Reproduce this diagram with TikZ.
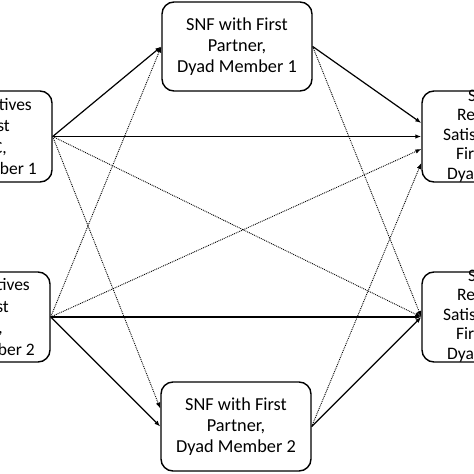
\documentclass[tikz,border=0pt]{standalone}
\usepackage{fontspec}
\setmainfont{Carlito}
\usetikzlibrary{arrows.meta,calc}
\begin{document}
\begin{tikzpicture}[x=1pt,y=-1pt,
  box/.style={draw, line width=1.4pt, rounded corners=12pt, fill=white, inner sep=0pt},
  mtxt/.style={font=\fontsize{18.3}{21}\selectfont, align=center},
  ltxt/.style={font=\fontsize{17.5}{21.5}\selectfont, inner sep=0pt, align=right},
  rtxt/.style={font=\fontsize{17.5}{19.5}\selectfont, inner sep=0pt, align=left},
  arr/.style={-{Latex[length=6pt,width=4.5pt]}, line width=1.2pt},
  dot/.style={-{Latex[length=6pt,width=4.5pt]}, line width=0.9pt, densely dotted}]
\useasboundingbox (0,0) rectangle (474,474);
\clip (0,0) rectangle (474,474);
% boxes
\node[box, mtxt, minimum width=150pt, minimum height=89pt] (t) at (237,46.5) {SNF with First\\Partner,\\Dyad Member 1};
\node[box, mtxt, minimum width=150pt, minimum height=89pt] (b) at (236,426.5) {SNF with First\\Partner,\\Dyad Member 2};
\node[box, minimum width=150pt, minimum height=91pt] (l1) at (-23,136.5) {};
\node[box, minimum width=150pt, minimum height=90pt] (l2) at (-25,317) {};
\node[box, minimum width=150pt, minimum height=91pt] (r1) at (497,136.5) {};
\node[box, minimum width=150pt, minimum height=90pt] (r2) at (497,317) {};
% clipped texts
\node[ltxt, anchor=east] (l1t) at (37,136.5) {ctives\rule{5pt}{0pt}\\st\rule{27pt}{0pt}\\C,\rule{30pt}{0pt}\\ber 1};
\node[ltxt, anchor=east] (l2t) at (35,317) {tives\rule{5pt}{0pt}\\st\rule{26pt}{0pt}\\,\rule{32pt}{0pt}\\ber 2};
\node[rtxt, anchor=west] (r1t) at (443,136) {\rule{25pt}{0pt}S\\\rule{14pt}{0pt}Re\\Satis\\\rule{13pt}{0pt}Fir\\\rule{4pt}{0pt}Dya};
\node[rtxt, anchor=west] (r2t) at (443,316) {\rule{25pt}{0pt}S\\\rule{14pt}{0pt}Re\\Satis\\\rule{13pt}{0pt}Fir\\\rule{4pt}{0pt}Dya};
% solid paths
\draw[arr] (l1.east) -- (t.west);
\draw[arr] (l1.east) -- (r1.west);
\draw[arr] (t.east) -- ([yshift=13.5pt]r1.west);
\draw[arr] (l2.east) -- (r2.west);
\draw[arr] (l2.east) -- (b.west);
\draw[arr] (b.east) -- (r2.west);
% dotted paths
\draw[dot] (l1.east) -- (r2.west);
\draw[dot] (l1.east) -- ([yshift=18pt]b.west);
\draw[dot] (l2.east) -- (t.west);
\draw[dot] (l2.east) -- ([yshift=-12.5pt]r1.west);
\draw[dot] (t.east) -- (r2.west);
\draw[dot] (b.east) -- ([yshift=-26.5pt]r1.west);
\end{tikzpicture}
\end{document}
